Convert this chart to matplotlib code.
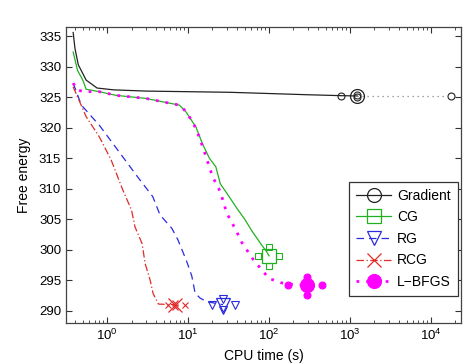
import matplotlib
matplotlib.use("Agg")
from matplotlib import pyplot as plt
from matplotlib.lines import Line2D
import numpy as np

plt.rcParams["font.family"] = ["Liberation Sans", "DejaVu Sans"]

# curves: cpu time (s) vs free energy
grad_t = [0.38, 0.40, 0.44, 0.55, 0.75, 1.2, 3, 10, 33, 100, 300, 776, 1230]
grad_e = [335.6, 333.0, 330.3, 327.8, 326.5, 326.2, 326.0, 325.9, 325.8, 325.6, 325.4, 325.25, 325.2]

cg_t = [0.38, 0.43, 0.5, 0.55, 0.8, 1.29, 3.0, 7.8, 9.4, 12.5, 15, 18.3, 22,
        25, 31, 40, 50, 62, 77, 93, 100]
cg_e = [332.4, 329.4, 327.8, 326.3, 325.9, 325.3, 324.8, 323.7, 322.6, 320.1, 317.4, 315.0, 313.6,
        310.8, 309.0, 306.8, 305.0, 303.0, 301.2, 299.7, 299.0]

rg_t = [0.38, 0.48, 0.8, 1.41, 2.39, 3.66, 4.5, 6.3, 7.5, 9.6, 11.1, 12.2, 14, 17, 27]
rg_e = [327.3, 323.7, 320.4, 316.0, 311.9, 308.7, 305.7, 303.5, 301.6, 298.1, 295.7, 292.9,
        292.1, 291.5, 291.0]

rcg_t = [0.38, 0.55, 0.8, 1.12, 1.56, 2.0, 2.2, 2.7, 2.95, 3.4, 3.7, 4.3, 6.9]
rcg_e = [326.7, 321.8, 318.5, 314.7, 309.8, 306.5, 303.8, 301.0, 297.7, 295.0, 292.8, 291.1, 291.0]

lb_t = [0.38, 0.42, 0.5, 0.8, 1.29, 3, 7.8, 9, 11.4, 13.7, 16.7, 20, 25, 30, 38, 46, 63, 80,
        100, 140, 200, 295]
lb_e = [327.3, 326.3, 325.9, 325.9, 325.3, 324.8, 323.7, 322.9, 321.0, 318.5, 315.2, 312.0,
        309.5, 306.0, 303.5, 301.2, 298.5, 296.8, 295.3, 294.6, 294.3, 294.2]

# final points: mean and spread (x low/high, y low/high)
grad_end = (1230, 325.2, 776, 17700, 325.05, 325.35)
cg_end = (100, 299.0, 73, 133, 297.3, 300.5)
rg_end = (27, 291.0, 19.5, 38, 290.2, 292.0)
rcg_end = (6.9, 291.0, 5.7, 9.2, 290.7, 291.3)
lb_end = (295, 294.2, 170, 450, 292.6, 295.6)

names = ["Gradient", "CG", "RG", "RCG", "L\u2212BFGS"]
curves = [(grad_t, grad_e), (cg_t, cg_e), (rg_t, rg_e), (rcg_t, rcg_e), (lb_t, lb_e)]
ends = [grad_end, cg_end, rg_end, rcg_end, lb_end]
colors = ["#222222", "#22b022", "#2a2ae0", "#e02a2a", "#ff00ff"]
styles = ["-", "-", (0, (6, 4)), (0, (6, 2, 1, 2)), (0, (1, 2.5))]
markers = ["o", "s", "v", "x", "o"]
filled = [False, False, False, False, True]

fig = plt.figure(figsize=(4.74, 3.63), dpi=100)
ax = fig.add_axes([66 / 474, 1 - 323 / 363, (461 - 66) / 474, (323 - 27) / 363])

handles = []
for i in range(5):
    t, e = curves[i]
    lw = 2.0 if i == 4 else 0.9
    ax.plot(t, e, color=colors[i], linestyle=styles[i], linewidth=lw)
    xm, ym, xl, xh, yl, yh = ends[i]
    fc = colors[i] if filled[i] else "none"
    small = 6 if markers[i] == "v" else 5
    ax.plot([xl, xh, xm, xm], [ym, ym, yl, yh], linestyle="none", marker=markers[i],
            markersize=small, markerfacecolor=fc, markeredgecolor=colors[i], markeredgewidth=0.8)
    ax.plot([xm], [ym], linestyle="none", marker=markers[i], markersize=10,
            markerfacecolor=fc, markeredgecolor=colors[i], markeredgewidth=0.9)
    handles.append(Line2D([], [], color=colors[i], linestyle=styles[i], linewidth=lw,
                          marker=markers[i], markersize=10, markerfacecolor=fc,
                          markeredgecolor=colors[i], markeredgewidth=0.9))

# dotted link for gradient spread
ax.plot([grad_end[0], grad_end[3]], [grad_end[1], grad_end[1]], color="#888888",
        linestyle=(0, (1, 3)), linewidth=0.9)

ax.set_xscale("log")
ax.set_xlim(0.31, 2.35e4)
ax.set_ylim(288, 336.5)
ax.set_yticks(np.arange(290, 336, 5))
ax.tick_params(which="both", direction="in", top=True, right=True, labelsize=9.5,
               colors="#333333", labelcolor="black")
ax.tick_params(which="major", length=4)
ax.tick_params(which="minor", length=2)
for s in ax.spines.values():
    s.set_color("#444444")
    s.set_linewidth(0.9)

ax.set_xlabel("CPU time (s)", fontsize=10, labelpad=4)
ax.set_ylabel("Free energy", fontsize=10, labelpad=6)

leg = ax.legend(handles, names, loc="lower right", bbox_to_anchor=(0.992, 0.091),
                borderaxespad=0, fontsize=10, handlelength=2.5, handletextpad=0.45,
                borderpad=0.5, labelspacing=0.55, fancybox=False, framealpha=1)
leg.get_frame().set_edgecolor("#333333")
leg.get_frame().set_linewidth(0.9)

fig.savefig("out.png", dpi=100)
